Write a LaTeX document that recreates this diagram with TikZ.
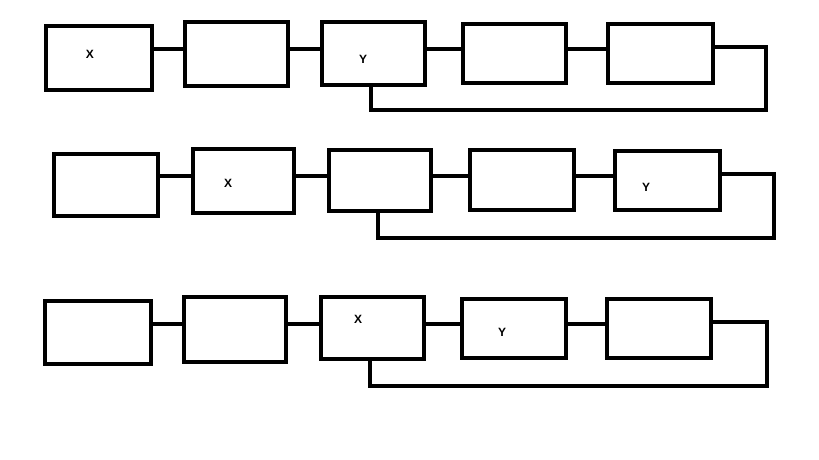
\documentclass[tikz,border=0pt]{standalone}
\usepackage{fontspec}
\setmainfont{Liberation Sans}
\begin{document}
\begin{tikzpicture}[x=1pt,y=-1pt,
  box/.style={draw=black, line width=4.6pt, rectangle, inner sep=0pt, fill=none},
  wire/.style={draw=black, line width=4.4pt, line join=miter},
  lab/.style={inner sep=0pt, font=\fontsize{12}{12}\selectfont\bfseries, text=black}]
\useasboundingbox[fill=white] (0,0) rectangle (819,460);
% ---------- row 1 ----------
\node[box, minimum width=106pt, minimum height=64pt] (a1) at (99,58) {};
\node[box, minimum width=103pt, minimum height=64pt] (a2) at (236.5,54) {};
\node[box, minimum width=103pt, minimum height=63pt] (a3) at (373.5,53.5) {};
\node[box, minimum width=103pt, minimum height=59pt] (a4) at (514.5,53.5) {};
\node[box, minimum width=105pt, minimum height=59pt] (a5) at (660.5,53.5) {};
\node[lab] (ax) at (90,54) {X};
\node[lab] (ay) at (363,59) {Y};
\coordinate (ra) at (0,49);
\coordinate (ral) at (766,47);
\coordinate (rab) at (371,110);
\draw[wire] (a1.east |- ra) -- (a2.west |- ra);
\draw[wire] (a2.east |- ra) -- (a3.west |- ra);
\draw[wire] (a3.east |- ra) -- (a4.west |- ra);
\draw[wire] (a4.east |- ra) -- (a5.west |- ra);
\draw[wire] ([xshift=-3pt]a5.east |- ral) -- (ral) |- (rab) -- (a3.south -| rab);
% ---------- row 2 ----------
\node[box, minimum width=104pt, minimum height=62pt] (b1) at (106,185) {};
\node[box, minimum width=101pt, minimum height=64pt] (b2) at (243.5,181) {};
\node[box, minimum width=102pt, minimum height=61pt] (b3) at (380,180.5) {};
\node[box, minimum width=104pt, minimum height=60pt] (b4) at (522,180) {};
\node[box, minimum width=105pt, minimum height=59pt] (b5) at (667.5,180.5) {};
\node[lab] (bx) at (228,183) {X};
\node[lab] (by) at (646,187) {Y};
\coordinate (rb) at (0,176);
\coordinate (rbl) at (774,174);
\coordinate (rbb) at (378,238);
\draw[wire] (b1.east |- rb) -- (b2.west |- rb);
\draw[wire] (b2.east |- rb) -- (b3.west |- rb);
\draw[wire] (b3.east |- rb) -- (b4.west |- rb);
\draw[wire] (b4.east |- rb) -- (b5.west |- rb);
\draw[wire] ([xshift=-3pt]b5.east |- rbl) -- (rbl) |- (rbb) -- (b3.south -| rbb);
% ---------- row 3 ----------
\node[box, minimum width=106pt, minimum height=63pt] (c1) at (98,332.5) {};
\node[box, minimum width=102pt, minimum height=65pt] (c2) at (235,329.5) {};
\node[box, minimum width=103pt, minimum height=62pt] (c3) at (372.5,328) {};
\node[box, minimum width=104pt, minimum height=59pt] (c4) at (514,328.5) {};
\node[box, minimum width=104pt, minimum height=59pt] (c5) at (659,328.5) {};
\node[lab] (cx) at (358,319) {X};
\node[lab] (cy) at (502,332) {Y};
\coordinate (rc) at (0,324);
\coordinate (rcl) at (767,322);
\coordinate (rcb) at (370,386);
\draw[wire] (c1.east |- rc) -- (c2.west |- rc);
\draw[wire] (c2.east |- rc) -- (c3.west |- rc);
\draw[wire] (c3.east |- rc) -- (c4.west |- rc);
\draw[wire] (c4.east |- rc) -- (c5.west |- rc);
\draw[wire] ([xshift=-3pt]c5.east |- rcl) -- (rcl) |- (rcb) -- (c3.south -| rcb);
\end{tikzpicture}
\end{document}
